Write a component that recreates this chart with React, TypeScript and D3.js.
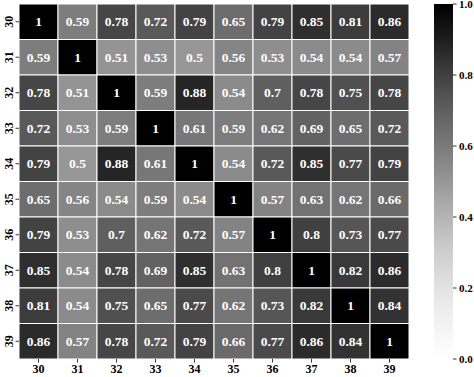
import React from "react";
import * as d3 from "d3";

const categories = ["30", "31", "32", "33", "34", "35", "36", "37", "38", "39"];
const row30 = [1, 0.59, 0.78, 0.72, 0.79, 0.65, 0.79, 0.85, 0.81, 0.86];
const row31 = [0.59, 1, 0.51, 0.53, 0.5, 0.56, 0.53, 0.54, 0.54, 0.57];
const row32 = [0.78, 0.51, 1, 0.59, 0.88, 0.54, 0.7, 0.78, 0.75, 0.78];
const row33 = [0.72, 0.53, 0.59, 1, 0.61, 0.59, 0.62, 0.69, 0.65, 0.72];
const row34 = [0.79, 0.5, 0.88, 0.61, 1, 0.54, 0.72, 0.85, 0.77, 0.79];
const row35 = [0.65, 0.56, 0.54, 0.59, 0.54, 1, 0.57, 0.63, 0.62, 0.66];
const row36 = [0.79, 0.53, 0.7, 0.62, 0.72, 0.57, 1, 0.8, 0.73, 0.77];
const row37 = [0.85, 0.54, 0.78, 0.69, 0.85, 0.63, 0.8, 1, 0.82, 0.86];
const row38 = [0.81, 0.54, 0.75, 0.65, 0.77, 0.62, 0.73, 0.82, 1, 0.84];
const row39 = [0.86, 0.57, 0.78, 0.72, 0.79, 0.66, 0.77, 0.86, 0.84, 1];
const matrix = [row30, row31, row32, row33, row34, row35, row36, row37, row38, row39];
const colorbarTicks = [0, 0.2, 0.4, 0.6, 0.8, 1.0];

const W = 474;
const H = 377;
const FONT = "\"Times New Roman\", \"Liberation Serif\", Tinos, \"Nimbus Roman\", serif";

export default function App() {
  const left = 19, right = 409, top = 4, bottom = 359;
  const x = d3.scaleBand<string>().domain(categories).range([left, right]);
  const y = d3.scaleBand<string>().domain(categories).range([top, bottom]);
  const color = (v: number) => d3.interpolateGreys(v);
  const cbX = 434, cbW = 19;
  const cbY = d3.scaleLinear().domain([0, 1]).range([bottom, top]);
  const stops = d3.range(0, 1.0001, 0.05);
  const txt: React.CSSProperties = { fontFamily: FONT, fontWeight: 700 };

  return (
    <svg width={W} height={H} style={{ position: "absolute", left: 0, top: 0, display: "block", background: "#fff" }}>
      <defs>
        <linearGradient id="cbgrad" x1="0" y1="1" x2="0" y2="0">
          {stops.map((s) => (
            <stop key={s} offset={s} stopColor={color(s)} />
          ))}
        </linearGradient>
      </defs>
      {matrix.map((row, i) =>
        row.map((v, j) => (
          <g key={`${i}-${j}`}>
            <rect
              x={x(categories[j])!}
              y={y(categories[i])!}
              width={x.bandwidth()}
              height={y.bandwidth()}
              fill={color(v)}
              stroke="#fff"
              strokeWidth={1}
            />
            <text
              x={x(categories[j])! + x.bandwidth() / 2}
              y={y(categories[i])! + y.bandwidth() / 2}
              textAnchor="middle"
              dominantBaseline="central"
              fill="#fff"
              style={{ ...txt, fontSize: 13.5 }}
            >
              {String(v)}
            </text>
          </g>
        ))
      )}
      {categories.map((c) => {
        const cx = x(c)! + x.bandwidth() / 2;
        return (
          <g key={"x" + c}>
            <line x1={cx} x2={cx} y1={bottom} y2={bottom + 3.5} stroke="#000" strokeWidth={0.8} />
            <text x={cx} y={bottom + 14} textAnchor="middle" fill="#000" style={{ ...txt, fontSize: 12 }}>
              {c}
            </text>
          </g>
        );
      })}
      {categories.map((c) => {
        const cy = y(c)! + y.bandwidth() / 2;
        return (
          <g key={"y" + c}>
            <line x1={left - 3.5} x2={left} y1={cy} y2={cy} stroke="#000" strokeWidth={0.8} />
            <text
              transform={`translate(${left - 6},${cy}) rotate(-90)`}
              textAnchor="middle"
              fill="#000"
              style={{ ...txt, fontSize: 12 }}
            >
              {c}
            </text>
          </g>
        );
      })}
      <rect x={cbX} y={top} width={cbW} height={bottom - top} fill="url(#cbgrad)" />
      {colorbarTicks.map((t) => (
        <g key={"cb" + t}>
          <line x1={cbX + cbW} x2={cbX + cbW + 3.5} y1={cbY(t)} y2={cbY(t)} stroke="#000" strokeWidth={0.8} />
          <text
            x={cbX + cbW + 6}
            y={cbY(t)}
            dominantBaseline="central"
            fill="#000"
            style={{ ...txt, fontSize: 11 }}
          >
            {t.toFixed(1)}
          </text>
        </g>
      ))}
    </svg>
  );
}
